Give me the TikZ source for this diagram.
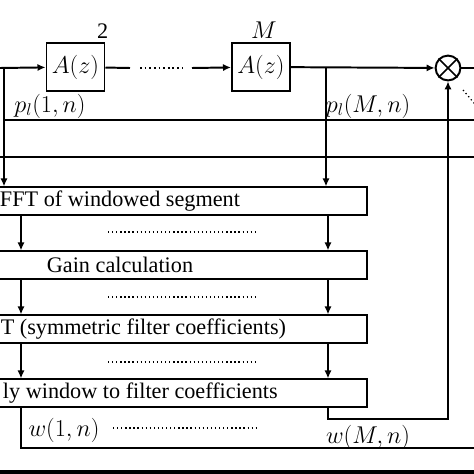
\documentclass[tikz,border=0pt]{standalone}
\usepackage{fontspec}
\setmainfont{Liberation Serif}
\usepackage{amsmath}
\usetikzlibrary{arrows.meta}
\tikzset{
  >={Latex[length=2mm,width=1.8mm]},
  linea/.style={line width=1.4pt},
  flecha/.style={->, line width=1.4pt},
  puntos/.style={dotted, line width=0.9pt},
  mate/.style={font=\fontsize{18.5}{22}\selectfont},
  filtro/.style={draw, line width=1.4pt, minimum width=1.45cm, minimum height=1.22cm, inner sep=0pt, mate},
  bloque/.style={draw, line width=1.4pt, minimum width=9.25cm, minimum height=0.68cm, inner sep=0pt},
}

\begin{document}
\begin{tikzpicture}[x=0.025cm, y=-0.025cm, font=\fontsize{15.8}{19}\selectfont]
  \useasboundingbox (0,0) rectangle (474,474);
  \clip (0,0) rectangle (474,474);
  % cadena de filtros
  \node[filtro] (A1) at (75.5,67) {$A(z)$};
  \node[filtro] (AM) at (261,67) {$A(z)$};
  \node[anchor=south, inner sep=2pt] (n2) at ([xshift=-2pt]A1.north east) {2};
  \node[anchor=south, inner sep=2pt, mate] (nM) at ([xshift=2pt]AM.north) {$M$};
  \node[circle, draw, line width=1.4pt, minimum size=0.62cm, inner sep=0pt] (mult) at (448,68) {};
  \draw[line width=1.2pt] (mult.north west) -- (mult.south east)
                          (mult.north east) -- (mult.south west);
  \coordinate (ent) at (0,68);
  \coordinate (tap1) at (4,68);
  \coordinate (tapM) at (326,68);
  \coordinate (c1) at (130,68);
  \coordinate (c2) at (140,68);
  \coordinate (c3) at (182,68);
  \coordinate (c4) at (192,68);
  \coordinate (sal) at (474,68);
  \draw[flecha] (ent) -- (A1);
  \draw[linea] (A1) -- (c1);
  \draw[puntos, line width=1.3pt] (c2) -- (c3);
  \draw[flecha] (c4) -- (AM);
  \draw[flecha] (AM) -- (mult);
  \draw[linea] (mult) -- (sal);
  \draw[puntos] (463,90) -- (480,110);
  % bloques de procesado
  \node[bloque] (fft)  at (181.5,201) {};
  \node[bloque] (gain) at (181.5,265) {};
  \node[bloque] (ifft) at (181.5,329) {};
  \node[bloque] (win)  at (181.5,393) {};
  \node (tfft)  at (120,201) {FFT of windowed segment};
  \node (tgain) at (120,265) {Gain calculation};
  \node[anchor=west, inner sep=0pt] (tifft) at (0.5,329) {T (symmetric filter coefficients)};
  \node[anchor=east, inner sep=0pt] (twin)  at (278,393) {ly window to filter coefficients};
  \coordinate (izq) at (21,0);
  \coordinate (der) at (328,0);
  \draw[flecha] (tap1) -- (tap1 |- fft.north);
  \draw[flecha] (tapM) -- (tapM |- fft.north);
  \foreach \a/\b in {fft/gain, gain/ifft, ifft/win}{
    \draw[flecha] (\a.south -| izq) -- (\b.north -| izq);
    \draw[flecha] (\a.south -| der) -- (\b.north -| der);
  }
  \foreach \y in {232,297,362}
    \draw[puntos] (108,\y) -- (255,\y);
  % lineas de otros canales
  \draw[linea] (4,120) -- (474,120);
  \draw[linea] (0,157) -- (474,157);
  \node[mate] (p1) at (50,106) {$p_l(1,n)$};
  \node[mate] (pM) at (368,106) {$p_l(M,n)$};
  % coeficientes de salida
  \coordinate (vuelta) at (448,419);
  \coordinate (fin) at (474,448);
  \draw[flecha] (win.south -| der) |- (vuelta) -- (mult.south);
  \draw[linea] (win.south -| izq) |- (fin);
  \node[mate] (w1) at (64,430) {$w(1,n)$};
  \node[mate] (wM) at (368,437) {$w(M,n)$};
  \draw[puntos] (113,428) -- (258,428);
  \draw[line width=2.8pt] (0,472) -- (474,472);
\end{tikzpicture}
\end{document}
